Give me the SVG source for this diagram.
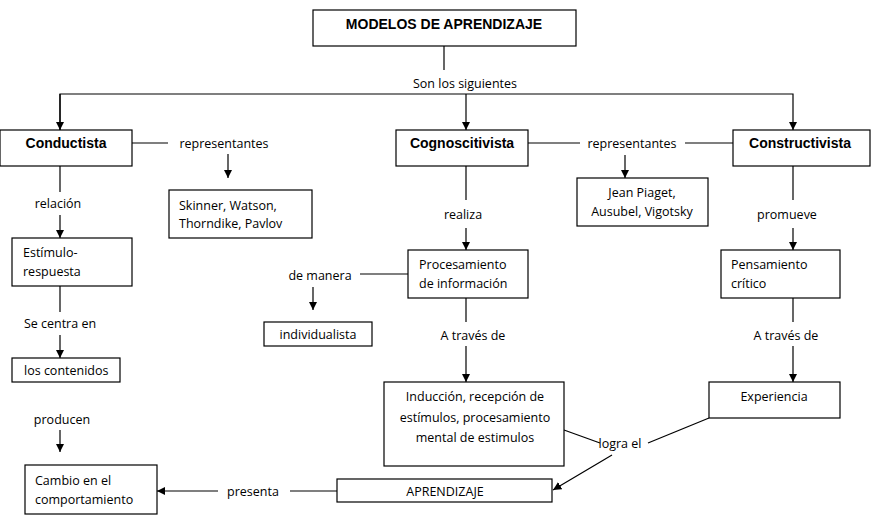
<svg xmlns="http://www.w3.org/2000/svg" width="872" height="528" viewBox="0 0 872 528">
<defs><marker id="a" viewBox="0 0 10 10" refX="10" refY="5" markerWidth="7" markerHeight="7" orient="auto"><path d="M0,0L10,5L0,10z" fill="#000"/></marker></defs>
<style>
rect{fill:#fff;stroke:#000;stroke-width:1.2}
text{font-family:"Open Sans","Liberation Sans",sans-serif;font-size:12.5px;fill:#000}
.b{font-family:"Liberation Sans",Arial,sans-serif;font-weight:bold;font-size:14px}
.c{text-anchor:middle}
#e line,#e polyline{stroke:#000;stroke-width:1.2;fill:none}
.m{marker-end:url(#a)}
</style>
<rect width="872" height="528" style="fill:#fff;stroke:none"/>
<g id="e">
<line x1="444" y1="46" x2="444" y2="70"/>
<polyline points="60,130 60,94 793,94 793,130" class="m"/>
<line x1="60" y1="94" x2="60" y2="130" class="m"/>
<line x1="466" y1="94" x2="466" y2="130" class="m"/>
<line x1="132" y1="143" x2="168" y2="143"/>
<line x1="228" y1="154" x2="228" y2="178" class="m"/>
<line x1="528" y1="143" x2="580" y2="143"/>
<line x1="685" y1="143" x2="733" y2="143"/>
<line x1="625" y1="155" x2="625" y2="178" class="m"/>
<line x1="60" y1="166" x2="60" y2="192"/>
<line x1="60" y1="215" x2="60" y2="238" class="m"/>
<line x1="60" y1="286" x2="60" y2="312"/>
<line x1="60" y1="335" x2="60" y2="358" class="m"/>
<line x1="60" y1="430" x2="60" y2="452" class="m"/>
<line x1="466" y1="166" x2="466" y2="200"/>
<line x1="466" y1="228" x2="466" y2="250" class="m"/>
<line x1="360" y1="274" x2="408" y2="274"/>
<line x1="313" y1="287" x2="313" y2="310" class="m"/>
<line x1="466" y1="298" x2="466" y2="322"/>
<line x1="466" y1="346" x2="466" y2="382" class="m"/>
<line x1="793" y1="166" x2="793" y2="200"/>
<line x1="793" y1="228" x2="793" y2="250" class="m"/>
<line x1="793" y1="298" x2="793" y2="322"/>
<line x1="793" y1="346" x2="793" y2="382" class="m"/>
<line x1="564" y1="430" x2="600" y2="443"/>
<line x1="648" y1="443" x2="709" y2="418"/>
<line x1="612" y1="455" x2="553" y2="490" class="m"/>
<line x1="337" y1="491" x2="290" y2="491"/>
<line x1="218" y1="491" x2="157" y2="491" class="m"/>
</g>
<g id="labels">
<text x="465" y="88" class="c">Son los siguientes</text>
<text x="224" y="148" class="c">representantes</text>
<text x="632" y="148" class="c">representantes</text>
<text x="58" y="208" class="c">relación</text>
<text x="60" y="328" class="c">Se centra en</text>
<text x="62" y="424" class="c">producen</text>
<text x="463" y="219" class="c">realiza</text>
<text x="320" y="280" class="c">de manera</text>
<text x="473" y="340" class="c">A través de</text>
<text x="787" y="219" class="c">promueve</text>
<text x="786" y="340" class="c">A través de</text>
<text x="620" y="448" class="c">logra el</text>
<text x="253" y="496" class="c">presenta</text>
</g>
<g id="n0"><rect x="313" y="10" width="263" height="36"/><text x="444" y="29" class="b c">MODELOS DE APRENDIZAJE</text></g>
<g id="n1"><rect x="0" y="130" width="132" height="36"/><text x="66" y="148" class="b c">Conductista</text></g>
<g id="n2"><rect x="396" y="130" width="132" height="36"/><text x="462" y="148" class="b c">Cognoscitivista</text></g>
<g id="n3"><rect x="733" y="130" width="137" height="36"/><text x="800" y="148" class="b c">Constructivista</text></g>
<g id="n4"><rect x="169" y="190" width="143" height="48"/><text x="179" y="210">Skinner, Watson,</text><text x="179" y="228">Thorndike, Pavlov</text></g>
<g id="n5"><rect x="577" y="178" width="131" height="48"/><text x="642" y="197" class="c">Jean Piaget,</text><text x="642" y="216" class="c">Ausubel, Vigotsky</text></g>
<g id="n6"><rect x="12" y="238" width="120" height="48"/><text x="23" y="257">Estímulo-</text><text x="23" y="276">respuesta</text></g>
<g id="n7"><rect x="12" y="358" width="108" height="24"/><text x="24" y="375">los contenidos</text></g>
<g id="n8"><rect x="25" y="465" width="132" height="49"/><text x="35" y="485">Cambio en el</text><text x="35" y="504">comportamiento</text></g>
<g id="n9"><rect x="408" y="250" width="120" height="48"/><text x="419" y="269">Procesamiento</text><text x="419" y="288">de información</text></g>
<g id="n10"><rect x="264" y="322" width="108" height="24"/><text x="318" y="339" class="c">individualista</text></g>
<g id="n11"><rect x="384" y="382" width="180" height="84"/><text x="475" y="401" class="c">Inducción, recepción de</text><text x="475" y="422" class="c">estímulos, procesamiento</text><text x="475" y="442" class="c">mental de estimulos</text></g>
<g id="n12"><rect x="721" y="250" width="119" height="48"/><text x="731" y="269">Pensamiento</text><text x="731" y="288">crítico</text></g>
<g id="n13"><rect x="709" y="382" width="131" height="36"/><text x="774" y="401" class="c">Experiencia</text></g>
<g id="n14"><rect x="337" y="479" width="215" height="23"/><text x="445" y="496" class="c">APRENDIZAJE</text></g>
</svg>
